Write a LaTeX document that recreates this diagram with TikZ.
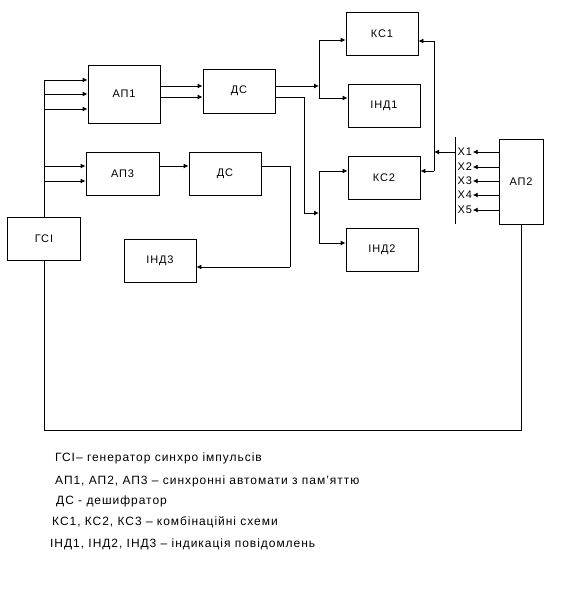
\documentclass[tikz,border=0pt]{standalone}
\usepackage{fontspec}
\setmainfont{Liberation Sans}[LetterSpace=8]
\usetikzlibrary{arrows.meta,positioning,calc}
\tikzset{
  blk/.style={draw, line width=0.9pt, minimum width=72pt, minimum height=43pt,
    inner sep=0pt, font=\fontsize{11}{12}\selectfont},
  wire/.style={line width=0.9pt},
  arr/.style={wire, -{Latex[length=5pt,width=5pt]}},
  xlbl/.style={inner sep=0.5pt, font=\fontsize{11}{12}\selectfont},
  legend/.style={anchor=base west, inner sep=0pt, font=\fontsize{12}{14}\selectfont}
}
\begin{document}
\begin{tikzpicture}[x=1pt, y=-1pt]
\useasboundingbox (0,0) rectangle (581,601);
% ---- blocks ----
\node[blk, minimum height=58pt] (ap1) at (124,94) {АП1};
\node[blk, minimum height=44pt] (dsA) at (239,91) {ДС};
\node[blk, minimum width=73pt] (ap3) at (122.5,173.5) {АП3};
\node[blk] (dsB) at (225,173.5) {ДС};
\node[blk] (ks1) at (382,33.5) {КС1};
\node[blk] (ind1) at (384,105.5) {ІНД1};
\node[blk] (ks2) at (384,177.5) {КС2};
\node[blk] (ind2) at (382,249.5) {ІНД2};
\node[blk, minimum width=44pt, minimum height=85pt] (ap2) at (521,181.5) {АП2};
\node[blk, minimum width=73pt] (gsi) at (44,238.5) {ГСІ};
\node[blk] (ind3) at (160,260.5) {ІНД3};
% ---- clock bus from the generator ----
\foreach \s in {14,0,-15}
  \draw[arr] (gsi.north) |- ([yshift=\s pt]ap1.west);
\foreach \s in {7.5,-7.5}
  \draw[arr] (gsi.north) |- ([yshift=\s pt]ap3.west);
% ---- automata to decoders ----
\foreach \s in {8,-3}
  \draw[arr] ([yshift=\s pt]ap1.east) -- ([yshift=\s pt]ap1.east -| dsA.west);
\draw[arr] ([yshift=7.5pt]ap3.east) -- ([yshift=7.5pt]ap3.east -| dsB.west);
% ---- upper decoder outputs ----
\coordinate (jA) at (319,86);
\coordinate (t1) at (319,40);
\coordinate (t2) at (319,98);
\draw[arr] (dsA.east |- jA) -- (jA);
\draw[wire] (t1) -- (t2);
\draw[arr] (t1) -- (t1 -| ks1.west);
\draw[arr] (t2) -- (t2 -| ind1.west);
\coordinate (bend) at (304,213);
\coordinate (jB) at (319,213);
\coordinate (t3) at (319,171);
\coordinate (t4) at (319,243);
\draw[wire] ([yshift=-6pt]dsA.east) -| (bend);
\draw[arr] (bend) -- (jB);
\draw[wire] (t3) -- (t4);
\draw[arr] (t3) -- (t3 -| ks2.west);
\draw[arr] (t4) -- (t4 -| ind2.west);
% ---- lower decoder to ІНД3 ----
\coordinate (c3) at (290,267);
\draw[wire] ([yshift=7.5pt]dsB.east) -| (c3);
\draw[arr] (c3) -- (c3 -| ind3.east);
% ---- inputs X1..X5 from АП2 ----
\coordinate (xtop) at (455,137);
\coordinate (xbot) at (455,224);
\draw[wire] (xtop) -- (xbot);
\foreach \n/\y in {1/152,2/167,3/181,4/195,5/210}{
  \node[xlbl, anchor=west] (x\n) at (457,\y) {X\n};
  \draw[arr] (ap2.west |- x\n) -- (x\n.east);}
\coordinate (jX) at (434,152);
\coordinate (r1) at (434,41);
\coordinate (r2) at (434,171);
\draw[arr] (xtop |- jX) -- (jX);
\draw[wire] (r1) -- (r2);
\draw[arr] (r1) -- (r1 -| ks1.east);
\draw[arr] (r2) -- (r2 -| ks2.east);
% ---- feedback loop ----
\coordinate (lp) at (0,430);
\draw[wire] (ap2.south) -- (ap2.south |- lp) -| (gsi.south);
% ---- legend ----
\node[legend] (l1) at (55,461) {ГСІ– генератор синхро імпульсів};
\node[legend] (l2) at (55,484) {АП1, АП2, АП3 – синхронні автомати з пам’яттю};
\node[legend] (l3) at (56,504) {ДС  - дешифратор};
\node[legend] (l4) at (52,525) {КС1, КС2, КС3 – комбінаційні схеми};
\node[legend] (l5) at (50,547) {ІНД1, ІНД2, ІНД3 – індикація повідомлень};
\end{tikzpicture}
\end{document}
